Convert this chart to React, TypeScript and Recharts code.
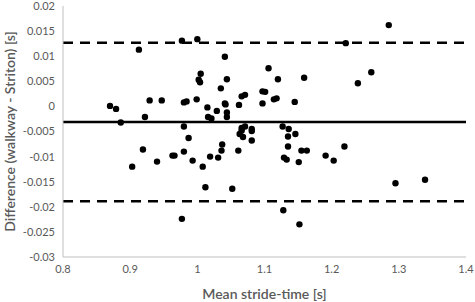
import { ScatterChart, Scatter, XAxis, YAxis, ReferenceLine } from 'recharts';

// Bland-Altman: mean stride time vs. difference (walkway - Striton)
const meanStride = [
  0.913, 0.977, 1.0, 0.87, 0.879, 0.929, 0.947, 0.98, 0.984, 0.999,
  0.922, 0.886, 0.98, 1.041, 1.005, 1.002, 1.004, 1.044, 1.106, 1.12,
  1.159, 1.035, 1.066, 1.071, 1.097, 1.101, 1.114, 1.118, 1.145, 1.015,
  1.029, 1.041, 1.042, 1.062, 1.097, 1.016, 1.021, 1.044, 1.044, 1.066,
  1.071, 1.081, 1.127, 1.136, 1.285, 1.221, 1.259, 1.239, 0.987, 0.919,
  0.963, 0.966, 0.98, 0.903, 0.94, 0.993, 0.977, 1.008, 1.019, 1.031,
  1.036, 1.037, 1.061, 1.063, 1.066, 1.068, 1.081, 1.081, 1.135, 1.146,
  1.135, 1.129, 1.133, 1.155, 1.163, 1.151, 1.191, 1.012, 1.052, 1.128,
  1.152, 1.203, 1.219, 1.295, 1.339,
];
const difference = [
  0.0113, 0.0131, 0.0134, 0.0001, -0.0005, 0.0012, 0.0012, 0.0008, 0.001, 0.0014,
  -0.0021, -0.0032, -0.0040, 0.0099, 0.0065, 0.0053, 0.0048, 0.0054, 0.0076, 0.0054,
  0.0057, 0.0036, 0.002, 0.0023, 0.003, 0.0029, 0.0014, 0.0016, 0.0009, -0.0002,
  -0.0009, 0.0006, 0.0004, 0.0003, 0.0006, -0.0021, -0.0024, -0.0012, -0.0021, -0.0043,
  -0.0040, -0.0045, -0.0040, -0.0045, 0.0162, 0.0126, 0.0068, 0.0046, -0.0063, -0.0086,
  -0.0098, -0.0098, -0.0090, -0.012, -0.011, -0.0108, -0.0224, -0.012, -0.01, -0.0102,
  -0.0088, -0.0076, -0.0088, -0.0055, -0.0048, -0.0061, -0.0049, -0.0068, -0.006, -0.0055,
  -0.008, -0.0102, -0.0106, -0.0088, -0.0088, -0.0111, -0.0098, -0.0161, -0.0164, -0.0207,
  -0.0235, -0.0108, -0.008, -0.0153, -0.0146,
];
const upperLimit = 0.0127;
const meanDiff = -0.0031;
const lowerLimit = -0.0189;

const xTicks = [0.8, 0.9, 1.0, 1.1, 1.2, 1.3, 1.4];
const yTicks = [0.02, 0.015, 0.01, 0.005, 0, -0.005, -0.01, -0.015, -0.02, -0.025, -0.03];

const points = meanStride.map((x, i) => ({ x, y: difference[i] }));

const fmt = (v: number) => String(parseFloat(v.toFixed(3)));
const tickStyle = { fontSize: 11, fill: '#595959', fontFamily: 'Lato, sans-serif' };
const titleStyle = { fontSize: 14, fill: '#595959', fontWeight: 600, fontFamily: 'Lato, sans-serif' };

export default function App() {
  return (
    <div style={{ position: 'absolute', left: 0, top: 0, background: '#fff' }}>
      <ScatterChart width={475} height={302} margin={{ top: 6, right: 9, bottom: 0, left: 0 }}>
        <XAxis
          type="number" dataKey="x" domain={[0.8, 1.4]} ticks={xTicks} tickFormatter={fmt}
          height={45} tick={tickStyle} tickLine={false} stroke="#bfbfbf"
          label={{ value: 'Mean stride-time [s]', position: 'insideBottom', offset: 3, style: titleStyle }}
        />
        <YAxis
          type="number" dataKey="y" domain={[-0.03, 0.02]} ticks={yTicks} tickFormatter={fmt}
          width={63} tick={tickStyle} tickLine={false} stroke="#bfbfbf" interval={0}
          label={{ value: 'Difference (walkway - Striton) [s]', angle: -90, position: 'insideLeft', offset: 10, style: { ...titleStyle, textAnchor: 'middle' } }}
        />
        <ReferenceLine y={upperLimit} stroke="#000" strokeWidth={2.5} strokeDasharray="10 7" />
        <ReferenceLine y={meanDiff} stroke="#000" strokeWidth={2.5} />
        <ReferenceLine y={lowerLimit} stroke="#000" strokeWidth={2.5} strokeDasharray="10 7" />
        <Scatter data={points} fill="#000" isAnimationActive={false}
          shape={(p: any) => <circle cx={p.cx} cy={p.cy} r={3.2} fill="#000" />} />
      </ScatterChart>
    </div>
  );
}
